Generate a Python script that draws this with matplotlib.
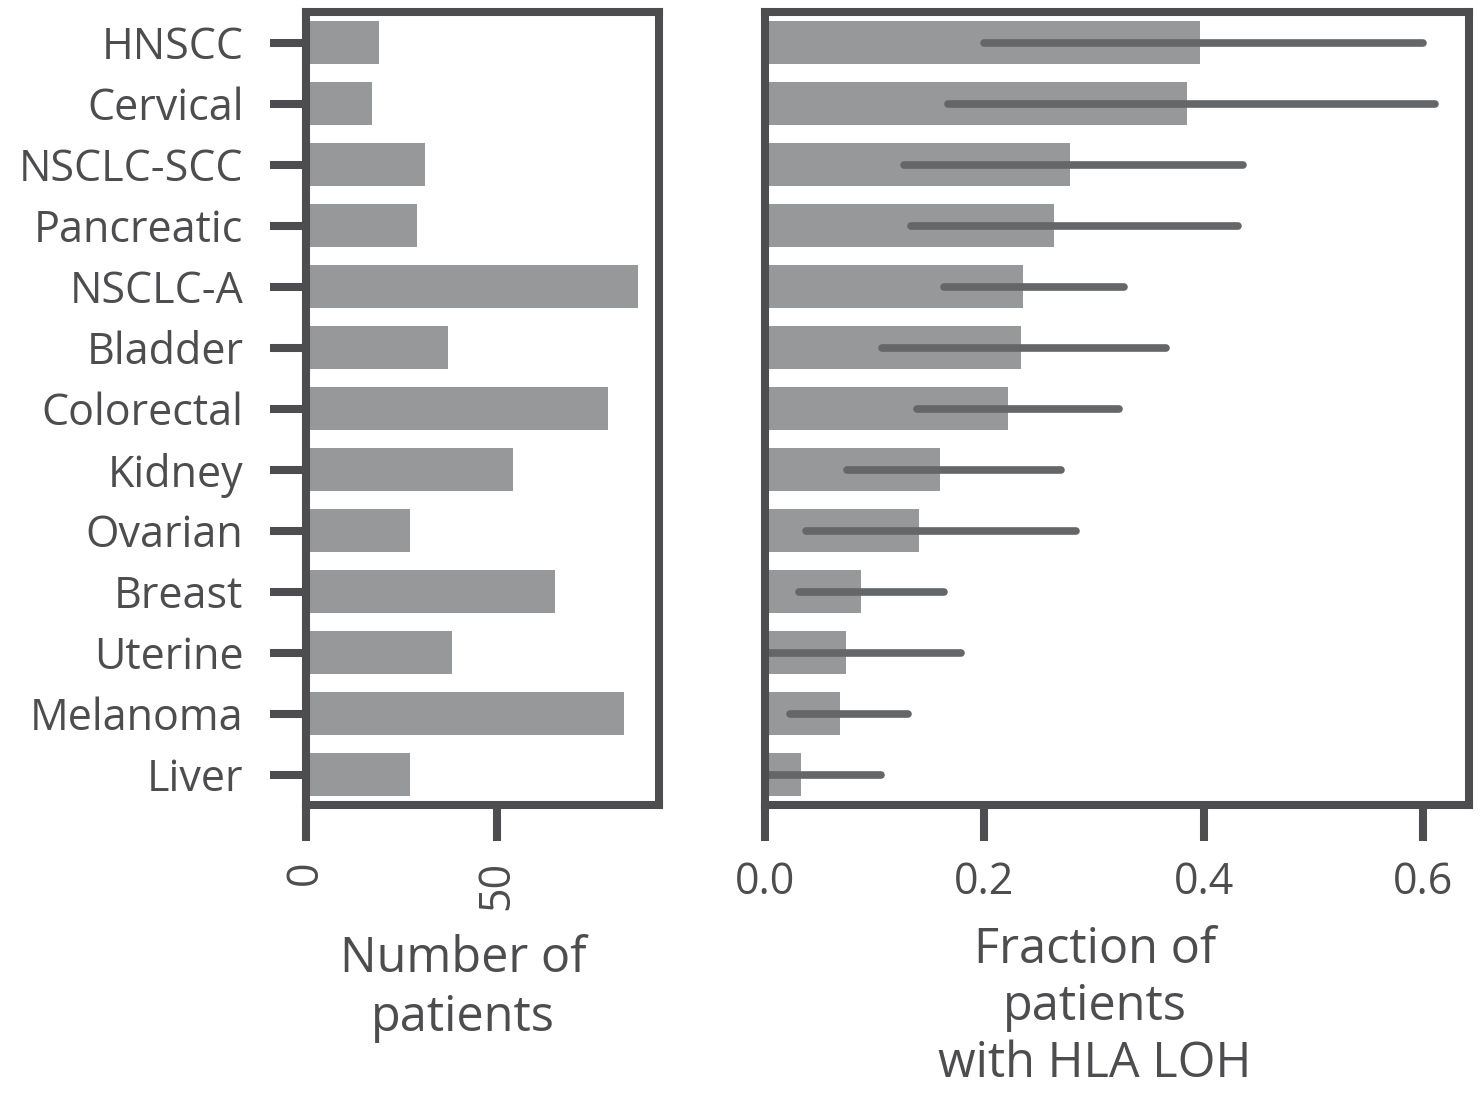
import matplotlib
matplotlib.use("Agg")
import matplotlib.pyplot as plt

categories = ["HNSCC", "Cervical", "NSCLC-SCC", "Pancreatic", "NSCLC-A", "Bladder",
              "Colorectal", "Kidney", "Ovarian", "Breast", "Uterine", "Melanoma", "Liver"]
n_patients = [19.2, 17.2, 31.2, 29.1, 86.9, 37.2, 79.1, 54.2, 27.2, 65.2, 38.2, 83.2, 27.2]
frac_loh = [0.397, 0.385, 0.278, 0.264, 0.235, 0.233, 0.222, 0.160, 0.140, 0.0875, 0.0735, 0.068, 0.0325]
ci_low = [0.200, 0.167, 0.127, 0.133, 0.163, 0.107, 0.139, 0.075, 0.037, 0.031, 0.000, 0.023, 0.000]
ci_high = [0.600, 0.611, 0.436, 0.431, 0.327, 0.366, 0.323, 0.270, 0.284, 0.163, 0.179, 0.130, 0.106]
left_ticks = [0, 50]
right_ticks = [0.0, 0.2, 0.4, 0.6]
right_ticklabels = ["0.0", "0.2", "0.4", "0.6"]

TXT = "#4d4d4f"
BAR = "#97989a"
ERR = "#656668"
plt.rcParams['font.family'] = ['Open Sans', 'DejaVu Sans']

W, H = 1483, 1100
fig = plt.figure(figsize=(W / 100, H / 100), dpi=100)

def px_axes(x0, x1, ytop, ybot):
    return fig.add_axes([x0 / W, 1 - ybot / H, (x1 - x0) / W, (ybot - ytop) / H])

ax1 = px_axes(306, 659, 12, 805)
ax2 = px_axes(765, 1469, 12, 805)

ypos = list(range(len(categories)))

ax1.barh(ypos, n_patients, height=0.7, color=BAR, zorder=1)
ax2.barh(ypos, frac_loh, height=0.7, color=BAR, zorder=1)
for y, lo, hi in zip(ypos, ci_low, ci_high):
    ax2.plot([lo, hi], [y, y], color=ERR, lw=5.5, solid_capstyle='round', zorder=2)

for ax in (ax1, ax2):
    ax.set_ylim(len(categories) - 0.5, -0.5)
    for s in ax.spines.values():
        s.set_linewidth(5.8)
        s.set_color(TXT)
        s.set_zorder(3)
    ax.tick_params(width=5.8, length=26, color=TXT, labelcolor=TXT, labelsize=31)

ax1.set_xlim(0, 92.4)
ax1.set_xticks(left_ticks)
ax1.set_xticklabels([str(t) for t in left_ticks], rotation=90, va='top', ha='center')
ax1.tick_params(axis='x', pad=14)
ax1.set_yticks(ypos)
ax1.set_yticklabels(categories)
ax1.tick_params(axis='y', pad=19)

ax2.set_xlim(0, 0.642)
ax2.set_xticks(right_ticks)
ax2.set_xticklabels(right_ticklabels)
ax2.tick_params(axis='x', pad=14)
ax2.set_yticks(ypos)
ax2.tick_params(axis='y', length=0, labelleft=False)

ax1.set_xlabel("Number of\npatients", fontsize=35, color=TXT, linespacing=1.25)
ax1.xaxis.set_label_coords(0.445, -0.163)
ax2.set_xlabel("Fraction of\npatients\nwith HLA LOH", fontsize=35, color=TXT, linespacing=1.2)
ax2.xaxis.set_label_coords(0.469, -0.152)

fig.savefig("out.png", dpi=100)
